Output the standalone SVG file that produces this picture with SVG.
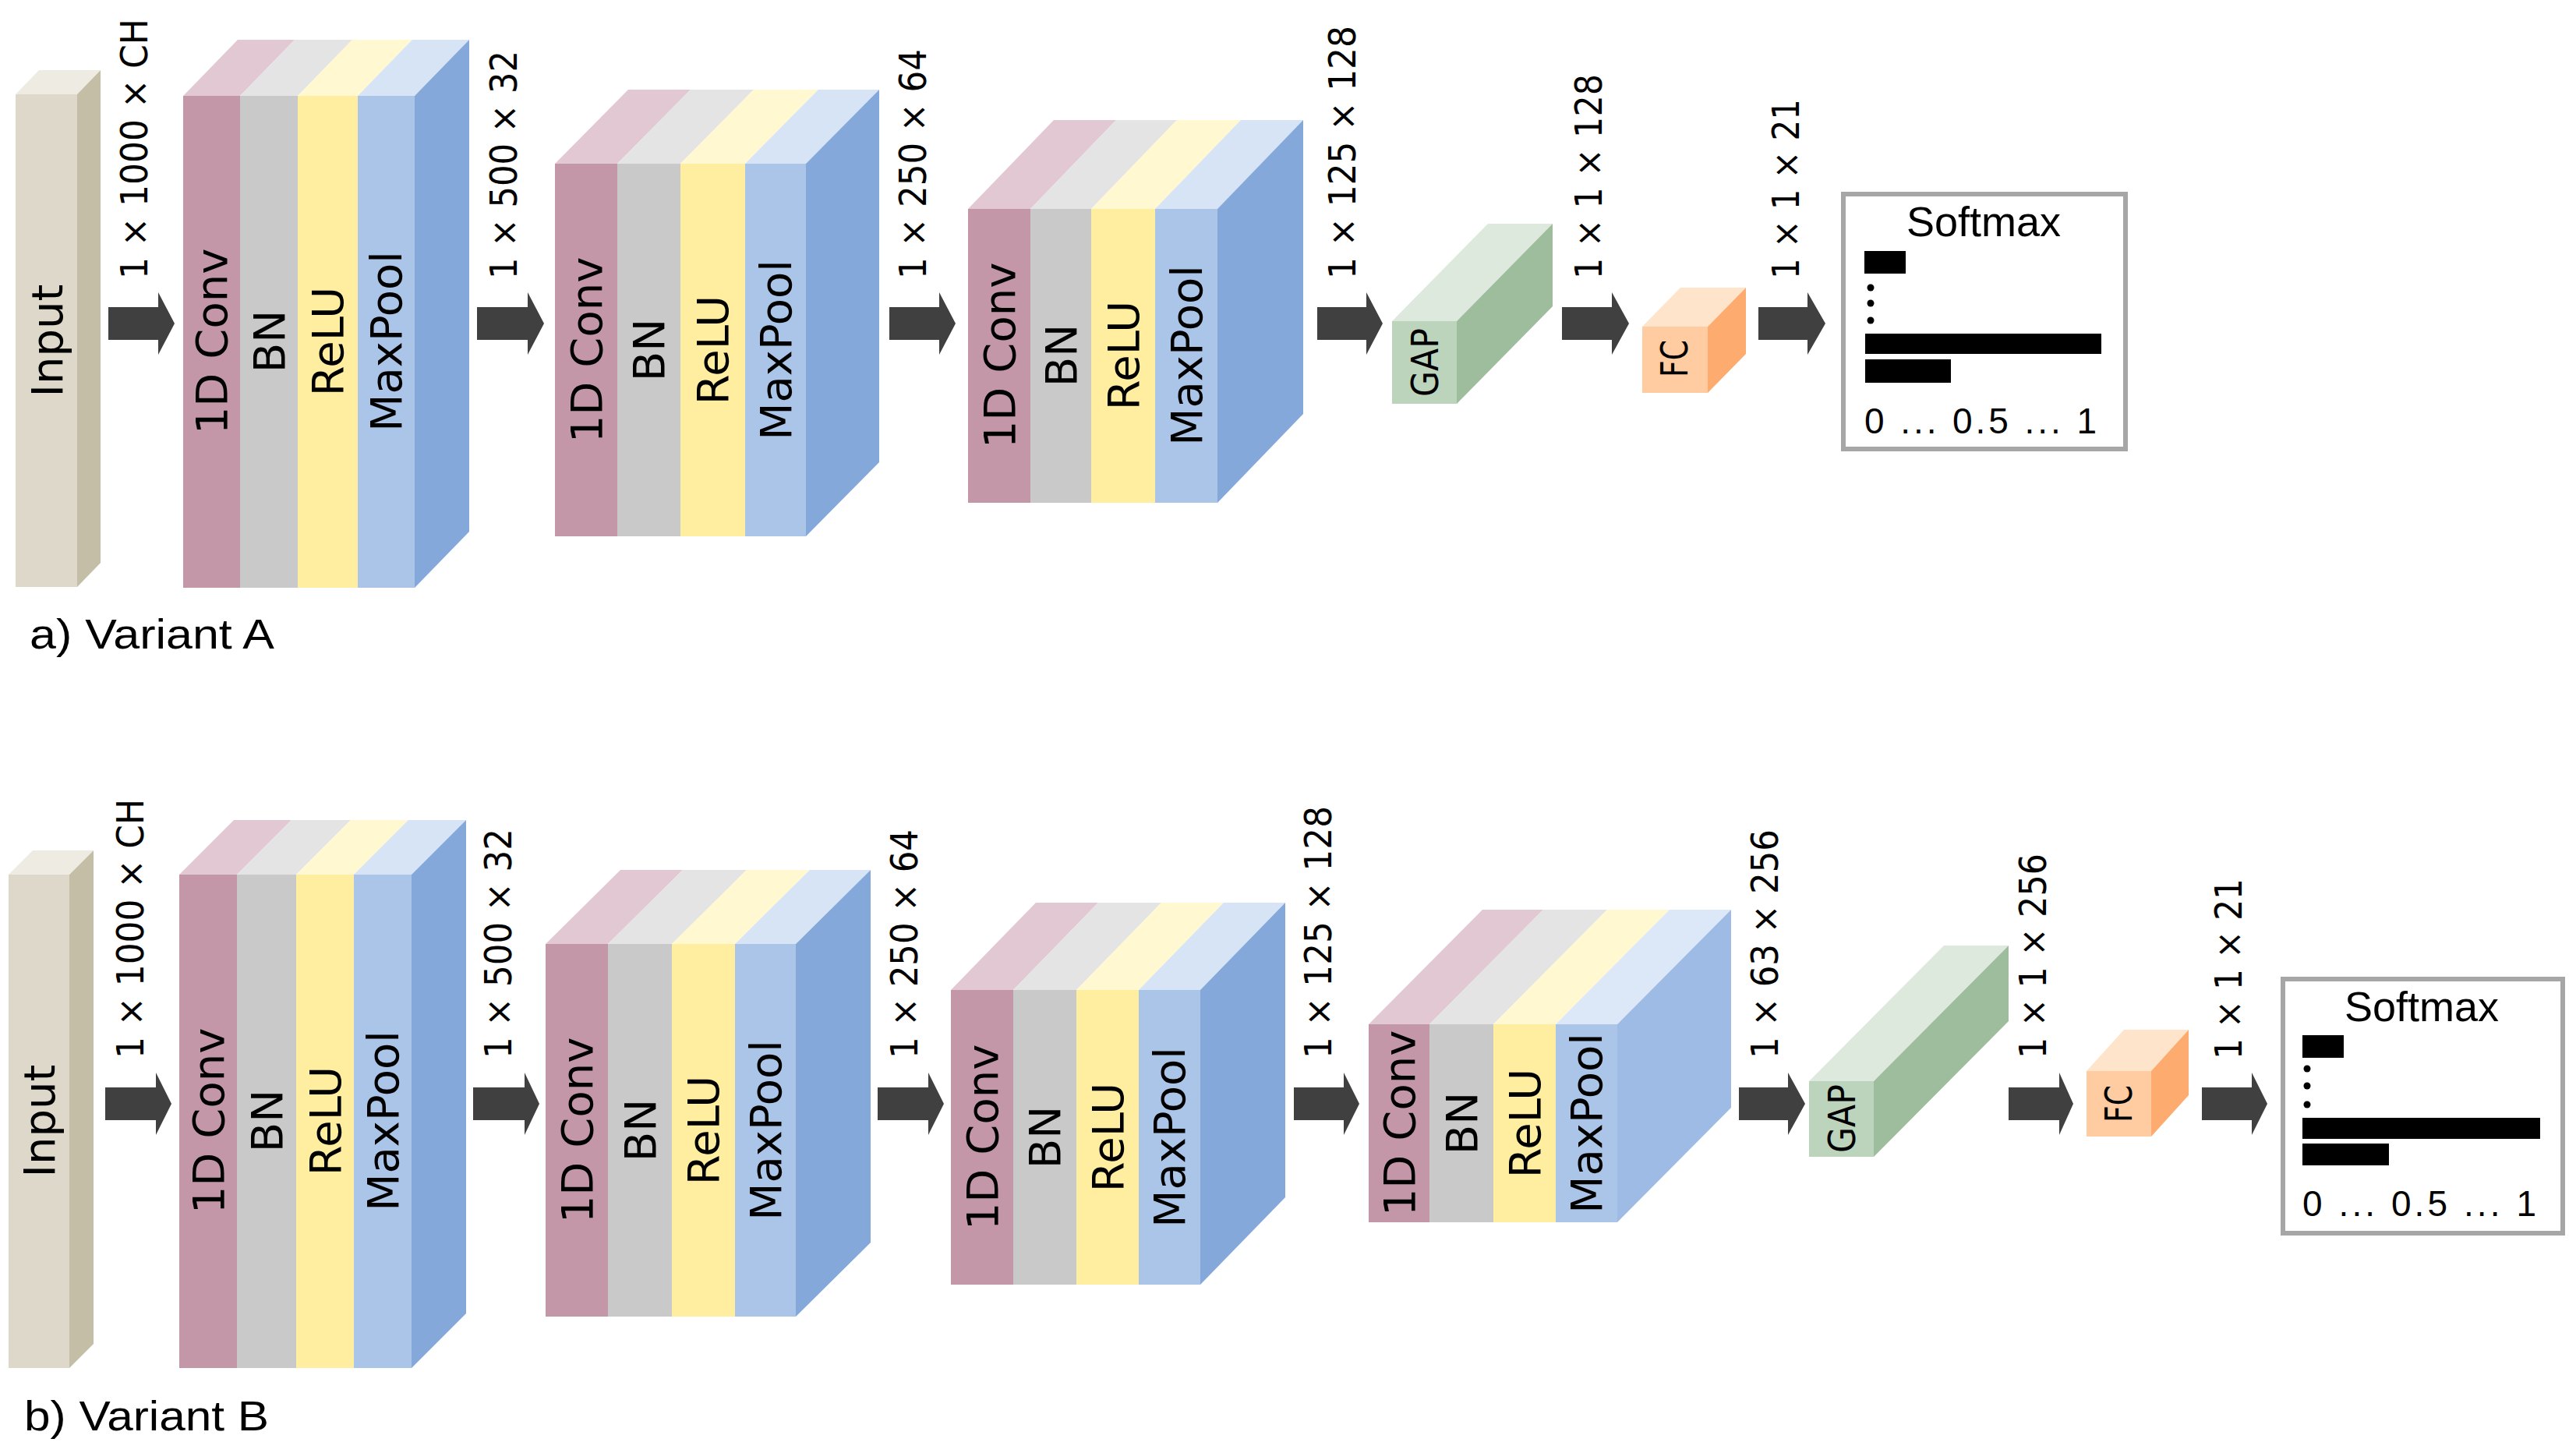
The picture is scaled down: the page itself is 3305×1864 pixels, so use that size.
<svg xmlns="http://www.w3.org/2000/svg" width="3305" height="1864" viewBox="0 0 3305 1864">
<style>
.t{font-family:"DejaVu Sans",sans-serif;font-size:56px;fill:#000;text-anchor:middle}
.d{font-family:"DejaVu Sans",sans-serif;font-size:48px;fill:#000}
.c{font-family:"Liberation Sans",Arial,sans-serif;fill:#000}
.cv{fill:#C497A8}.cvt{fill:#E2C8D3}
.bn{fill:#C9C9C9}.bnt{fill:#E4E4E4}
.rl{fill:#FFEDA0}.rlt{fill:#FFF8D0}
.mp{fill:#ABC5E9}.mpt{fill:#D6E4F5}.mps{fill:#84A8DA}
.ar{fill:#404040}
</style>
<rect width="3305" height="1864" fill="#fff"/>

<!-- Variant A -->
<g id="inputA">
<polygon points="20,121 50,90 129,90 99,121" fill="#EEECE2"/>
<polygon points="99,121 129,90 129,722 99,753" fill="#C4BEA6"/>
<rect x="20" y="121" width="79" height="632" fill="#DDD8C9"/>
<text class="t" transform="translate(80,437) rotate(-90)">Input</text>
</g>

<g id="blockA1">
<polygon class="cvt" points="235,123 305,51 378,51 308,123"/>
<polygon class="bnt" points="308,123 378,51 452,51 382,123"/>
<polygon class="rlt" points="382,123 452,51 529,51 459,123"/>
<polygon class="mpt" points="459,123 529,51 602,51 532,123"/>
<polygon class="mps" points="532,123 602,51 602,682 532,754"/>
<rect class="cv" x="235" y="123" width="73" height="631"/>
<rect class="bn" x="308" y="123" width="74" height="631"/>
<rect class="rl" x="382" y="123" width="77" height="631"/>
<rect class="mp" x="459" y="123" width="73" height="631"/>
<text class="t" transform="translate(291,438) rotate(-90)">1D Conv</text>
<text class="t" transform="translate(365,438) rotate(-90)">BN</text>
<text class="t" transform="translate(440,438) rotate(-90)">ReLU</text>
<text class="t" transform="translate(515,438) rotate(-90)">MaxPool</text>
</g>

<g id="blockA2">
<polygon class="cvt" points="712,210 806,115 886,115 792,210"/>
<polygon class="bnt" points="792,210 886,115 967,115 873,210"/>
<polygon class="rlt" points="873,210 967,115 1050,115 956,210"/>
<polygon class="mpt" points="956,210 1050,115 1128,115 1034,210"/>
<polygon class="mps" points="1034,210 1128,115 1128,593 1034,688"/>
<rect class="cv" x="712" y="210" width="80" height="478"/>
<rect class="bn" x="792" y="210" width="81" height="478"/>
<rect class="rl" x="873" y="210" width="83" height="478"/>
<rect class="mp" x="956" y="210" width="78" height="478"/>
<text class="t" transform="translate(772,449) rotate(-90)">1D Conv</text>
<text class="t" transform="translate(852,449) rotate(-90)">BN</text>
<text class="t" transform="translate(934,449) rotate(-90)">ReLU</text>
<text class="t" transform="translate(1015,449) rotate(-90)">MaxPool</text>
</g>

<g id="blockA3">
<polygon class="cvt" points="1242,268 1352,154 1432,154 1322,268"/>
<polygon class="bnt" points="1322,268 1432,154 1510,154 1400,268"/>
<polygon class="rlt" points="1400,268 1510,154 1592,154 1482,268"/>
<polygon class="mpt" points="1482,268 1592,154 1672,154 1562,268"/>
<polygon class="mps" points="1562,268 1672,154 1672,531 1562,645"/>
<rect class="cv" x="1242" y="268" width="80" height="377"/>
<rect class="bn" x="1322" y="268" width="78" height="377"/>
<rect class="rl" x="1400" y="268" width="82" height="377"/>
<rect class="mp" x="1482" y="268" width="80" height="377"/>
<text class="t" transform="translate(1302,456) rotate(-90)">1D Conv</text>
<text class="t" transform="translate(1381,456) rotate(-90)">BN</text>
<text class="t" transform="translate(1461,456) rotate(-90)">ReLU</text>
<text class="t" transform="translate(1542,456) rotate(-90)">MaxPool</text>
</g>

<g id="gapA">
<polygon points="1786,412 1909,287 1992,287 1869,412" fill="#DEE9DE"/>
<polygon points="1869,412 1992,287 1992,393 1869,518" fill="#9DBD9D"/>
<rect x="1786" y="412" width="83" height="106" fill="#BCD3BC"/>
<text class="d" transform="translate(1845,509) rotate(-90)" textLength="88" lengthAdjust="spacingAndGlyphs">GAP</text>
</g>

<g id="fcA">
<polygon points="2107,419 2156,369 2240,369 2191,419" fill="#FFE4CC"/>
<polygon points="2191,419 2240,369 2240,454 2191,504" fill="#FDAB6E"/>
<rect x="2107" y="419" width="84" height="85" fill="#FFCBA0"/>
<text class="d" transform="translate(2165,484) rotate(-90)" textLength="48" lengthAdjust="spacingAndGlyphs">FC</text>
</g>

<g id="softmaxA" transform="translate(2365,249)">
<rect x="0" y="0" width="362" height="327" fill="#fff" stroke="#A6A6A6" stroke-width="6"/>
<text class="c" x="180" y="54" font-size="54" text-anchor="middle">Softmax</text>
<rect x="27" y="73" width="53" height="29" fill="#000"/>
<circle cx="35" cy="120" r="4.5" fill="#000"/><circle cx="35" cy="140" r="4.5" fill="#000"/><circle cx="35" cy="162" r="4.5" fill="#000"/>
<rect x="28" y="179" width="303" height="26" fill="#000"/>
<rect x="28" y="212" width="110" height="30" fill="#000"/>
<text class="c" x="27" y="307" font-size="46" textLength="298" lengthAdjust="spacing">0 ... 0.5 ... 1</text>
</g>

<text id="labelA" class="c" x="38" y="832" font-size="54" textLength="314" lengthAdjust="spacingAndGlyphs">a) Variant A</text>

<!-- Variant B -->
<g id="inputB">
<polygon points="11,1122 42,1091 120,1091 89,1122" fill="#EEECE2"/>
<polygon points="89,1122 120,1091 120,1724 89,1755" fill="#C4BEA6"/>
<rect x="11" y="1122" width="78" height="633" fill="#DDD8C9"/>
<text class="t" transform="translate(70,1438) rotate(-90)">Input</text>
</g>

<g id="blockB1">
<polygon class="cvt" points="230,1122 300,1052 374,1052 304,1122"/>
<polygon class="bnt" points="304,1122 374,1052 450,1052 380,1122"/>
<polygon class="rlt" points="380,1122 450,1052 524,1052 454,1122"/>
<polygon class="mpt" points="454,1122 524,1052 598,1052 528,1122"/>
<polygon class="mps" points="528,1122 598,1052 598,1685 528,1755"/>
<rect class="cv" x="230" y="1122" width="74" height="633"/>
<rect class="bn" x="304" y="1122" width="76" height="633"/>
<rect class="rl" x="380" y="1122" width="74" height="633"/>
<rect class="mp" x="454" y="1122" width="74" height="633"/>
<text class="t" transform="translate(287,1438) rotate(-90)">1D Conv</text>
<text class="t" transform="translate(362,1438) rotate(-90)">BN</text>
<text class="t" transform="translate(437,1438) rotate(-90)">ReLU</text>
<text class="t" transform="translate(511,1438) rotate(-90)">MaxPool</text>
</g>

<g id="blockB2">
<polygon class="cvt" points="700,1211 796,1116 876,1116 780,1211"/>
<polygon class="bnt" points="780,1211 876,1116 958,1116 862,1211"/>
<polygon class="rlt" points="862,1211 958,1116 1039,1116 943,1211"/>
<polygon class="mpt" points="943,1211 1039,1116 1117,1116 1021,1211"/>
<polygon class="mps" points="1021,1211 1117,1116 1117,1594 1021,1689"/>
<rect class="cv" x="700" y="1211" width="80" height="478"/>
<rect class="bn" x="780" y="1211" width="82" height="478"/>
<rect class="rl" x="862" y="1211" width="81" height="478"/>
<rect class="mp" x="943" y="1211" width="78" height="478"/>
<text class="t" transform="translate(760,1450) rotate(-90)">1D Conv</text>
<text class="t" transform="translate(841,1450) rotate(-90)">BN</text>
<text class="t" transform="translate(922,1450) rotate(-90)">ReLU</text>
<text class="t" transform="translate(1002,1450) rotate(-90)">MaxPool</text>
</g>

<g id="blockB3">
<polygon class="cvt" points="1220,1270 1329,1158 1409,1158 1300,1270"/>
<polygon class="bnt" points="1300,1270 1409,1158 1490,1158 1381,1270"/>
<polygon class="rlt" points="1381,1270 1490,1158 1570,1158 1461,1270"/>
<polygon class="mpt" points="1461,1270 1570,1158 1649,1158 1540,1270"/>
<polygon class="mps" points="1540,1270 1649,1158 1649,1536 1540,1648"/>
<rect class="cv" x="1220" y="1270" width="80" height="378"/>
<rect class="bn" x="1300" y="1270" width="81" height="378"/>
<rect class="rl" x="1381" y="1270" width="80" height="378"/>
<rect class="mp" x="1461" y="1270" width="79" height="378"/>
<text class="t" transform="translate(1280,1459) rotate(-90)">1D Conv</text>
<text class="t" transform="translate(1360,1459) rotate(-90)">BN</text>
<text class="t" transform="translate(1441,1459) rotate(-90)">ReLU</text>
<text class="t" transform="translate(1520,1459) rotate(-90)">MaxPool</text>
</g>

<g id="blockB4">
<polygon class="cvt" points="1756,1314 1902,1167 1980,1167 1834,1314"/>
<polygon class="bnt" points="1834,1314 1980,1167 2062,1167 1916,1314"/>
<polygon class="rlt" points="1916,1314 2062,1167 2142,1167 1996,1314"/>
<polygon points="1996,1314 2142,1167 2221,1167 2075,1314" fill="#DCE8F7"/>
<polygon points="2075,1314 2221,1167 2221,1421 2075,1568" fill="#9DBBE4"/>
<rect class="cv" x="1756" y="1314" width="78" height="254"/>
<rect class="bn" x="1834" y="1314" width="82" height="254"/>
<rect class="rl" x="1916" y="1314" width="80" height="254"/>
<rect class="mp" x="1996" y="1314" width="79" height="254"/>
<text class="t" transform="translate(1815,1441) rotate(-90)">1D Conv</text>
<text class="t" transform="translate(1895,1441) rotate(-90)">BN</text>
<text class="t" transform="translate(1976,1441) rotate(-90)">ReLU</text>
<text class="t" transform="translate(2055,1441) rotate(-90)">MaxPool</text>
</g>

<g id="gapB">
<polygon points="2321,1387 2494,1213 2577,1213 2404,1387" fill="#DEE9DE"/>
<polygon points="2404,1387 2577,1213 2577,1310 2404,1484" fill="#9DBD9D"/>
<rect x="2321" y="1387" width="83" height="97" fill="#BCD3BC"/>
<text class="d" transform="translate(2380,1479) rotate(-90)" textLength="88" lengthAdjust="spacingAndGlyphs">GAP</text>
</g>

<g id="fcB">
<polygon points="2677,1374 2725,1321 2808,1321 2760,1374" fill="#FFE4CC"/>
<polygon points="2760,1374 2808,1321 2808,1405 2760,1458" fill="#FDAB6E"/>
<rect x="2677" y="1374" width="83" height="84" fill="#FFCBA0"/>
<text class="d" transform="translate(2735,1440) rotate(-90)" textLength="48" lengthAdjust="spacingAndGlyphs">FC</text>
</g>

<g id="softmaxB" transform="translate(2929,1256)">
<rect x="0" y="0" width="359" height="326" fill="#fff" stroke="#A6A6A6" stroke-width="6"/>
<text class="c" x="178" y="54" font-size="54" text-anchor="middle">Softmax</text>
<rect x="25" y="72" width="53" height="29" fill="#000"/>
<circle cx="31" cy="115" r="4.5" fill="#000"/><circle cx="31" cy="137" r="4.5" fill="#000"/><circle cx="31" cy="161" r="4.5" fill="#000"/>
<rect x="25" y="178" width="305" height="27" fill="#000"/>
<rect x="25" y="211" width="111" height="28" fill="#000"/>
<text class="c" x="25" y="304" font-size="46" textLength="300" lengthAdjust="spacing">0 ... 0.5 ... 1</text>
</g>

<text id="labelB" class="c" x="31" y="1835" font-size="54" textLength="314" lengthAdjust="spacingAndGlyphs">b) Variant B</text>

<!-- connectors -->
<g id="connectors">
<path class="ar" d="M139,394H203V375L224,415L203,455V436H139Z"/>
<path class="ar" d="M612,394H677V375L698,415L677,455V436H612Z"/>
<path class="ar" d="M1141,394H1205V375L1226,415L1205,455V436H1141Z"/>
<path class="ar" d="M1690,394H1753V375L1774,415L1753,455V436H1690Z"/>
<path class="ar" d="M2004,394H2068V375L2090,415L2068,455V436H2004Z"/>
<path class="ar" d="M2256,394H2319V375L2342,415L2319,455V436H2256Z"/>
<path class="ar" d="M135,1395H200V1376L220,1416L200,1456V1437H135Z"/>
<path class="ar" d="M607,1395H673V1376L692,1416L673,1456V1437H607Z"/>
<path class="ar" d="M1126,1395H1191V1376L1211,1416L1191,1456V1437H1126Z"/>
<path class="ar" d="M1660,1395H1724V1376L1744,1416L1724,1456V1437H1660Z"/>
<path class="ar" d="M2231,1395H2294V1376L2316,1416L2294,1456V1437H2231Z"/>
<path class="ar" d="M2577,1395H2642V1376L2660,1416L2642,1456V1437H2577Z"/>
<path class="ar" d="M2825,1395H2889V1376L2909,1416L2889,1456V1437H2825Z"/>
</g>

<g id="dims">
<text class="d" transform="translate(189,358) rotate(-90)" textLength="334" lengthAdjust="spacingAndGlyphs">1 × 1000 × CH</text>
<text class="d" transform="translate(663,358) rotate(-90)" textLength="293" lengthAdjust="spacingAndGlyphs">1 × 500 × 32</text>
<text class="d" transform="translate(1188,358) rotate(-90)" textLength="295" lengthAdjust="spacingAndGlyphs">1 × 250 × 64</text>
<text class="d" transform="translate(1739,358) rotate(-90)" textLength="325" lengthAdjust="spacingAndGlyphs">1 × 125 × 128</text>
<text class="d" transform="translate(2055,358) rotate(-90)" textLength="263" lengthAdjust="spacingAndGlyphs">1 × 1 × 128</text>
<text class="d" transform="translate(2308,358) rotate(-90)" textLength="231" lengthAdjust="spacingAndGlyphs">1 × 1 × 21</text>
<text class="d" transform="translate(184,1358) rotate(-90)" textLength="333" lengthAdjust="spacingAndGlyphs">1 × 1000 × CH</text>
<text class="d" transform="translate(656,1358) rotate(-90)" textLength="295" lengthAdjust="spacingAndGlyphs">1 × 500 × 32</text>
<text class="d" transform="translate(1177,1358) rotate(-90)" textLength="294" lengthAdjust="spacingAndGlyphs">1 × 250 × 64</text>
<text class="d" transform="translate(1708,1358) rotate(-90)" textLength="324" lengthAdjust="spacingAndGlyphs">1 × 125 × 128</text>
<text class="d" transform="translate(2281,1358) rotate(-90)" textLength="294" lengthAdjust="spacingAndGlyphs">1 × 63 × 256</text>
<text class="d" transform="translate(2625,1358) rotate(-90)" textLength="263" lengthAdjust="spacingAndGlyphs">1 × 1 × 256</text>
<text class="d" transform="translate(2876,1359) rotate(-90)" textLength="232" lengthAdjust="spacingAndGlyphs">1 × 1 × 21</text>
</g>
</svg>
